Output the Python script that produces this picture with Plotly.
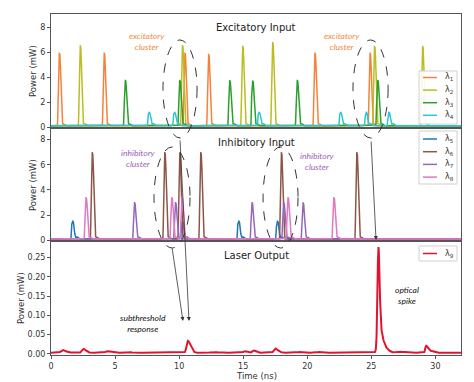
import numpy as np
import plotly.graph_objects as go
from plotly.subplots import make_subplots

# ---------------- data ----------------
# Excitatory input pulses: times (ns) and peak powers (mW)
lam1_t = [0.65, 4.15, 10.45, 12.30, 20.60, 24.90]
lam1_p = [5.9, 5.9, 5.9, 5.8, 5.9, 5.9]
lam2_t = [2.28, 10.26, 14.96, 17.30, 25.25, 29.00]
lam2_p = [6.5, 6.5, 6.45, 6.75, 6.45, 6.45]
lam3_t = [5.80, 10.05, 13.95, 15.74, 19.22, 25.50]
lam3_p = [3.72, 3.72, 3.7, 3.68, 3.72, 3.72]
lam4_t = [7.66, 9.64, 16.24, 22.60, 24.60, 26.37]
lam4_p = [1.18, 1.18, 1.18, 1.18, 1.18, 1.18]
# Inhibitory input pulses
lam5_t = [1.69, 10.26, 14.65, 17.67]
lam5_p = [1.52, 1.52, 1.52, 1.52]
lam6_t = [3.22, 8.88, 10.05, 11.69, 17.98, 23.87]
lam6_p = [6.95, 6.95, 6.95, 6.95, 6.95, 6.95]
lam7_t = [6.52, 9.72, 15.69, 18.16, 19.67]
lam7_p = [2.98, 2.98, 2.98, 2.98, 2.98]
lam8_t = [2.73, 9.43, 10.23, 18.50, 22.08]
lam8_p = [3.38, 3.38, 3.38, 3.38, 3.38]
input_base = 0.1
# Laser output components: time, amplitude, rise width, fall width
out_t = [0.90, 2.52, 4.38, 5.90, 10.67, 12.70, 15.10, 15.80, 17.49, 19.40, 20.90,
         25.55, 25.62, 26.00, 27.20, 29.27, 29.55]
out_a = [0.007, 0.010, 0.004, 0.002, 0.031, 0.002, 0.004, 0.006, 0.011, 0.002, 0.002,
         0.218, 0.062, 0.013, 0.003, 0.017, 0.005]
out_r = [0.12, 0.10, 0.12, 0.2, 0.09, 0.2, 0.08, 0.08, 0.10, 0.2, 0.2,
         0.07, 0.12, 0.25, 0.2, 0.06, 0.15]
out_f = [0.25, 0.20, 0.25, 0.3, 0.22, 0.3, 0.15, 0.15, 0.22, 0.3, 0.3,
         0.09, 0.22, 0.30, 0.3, 0.12, 0.25]
out_base = 0.003

x_ticks = [0, 5, 10, 15, 20, 25, 30]
y_in_ticks = [0, 2, 4, 6, 8]
y_out_ticks = [0.00, 0.05, 0.10, 0.15, 0.20, 0.25]

t = np.arange(0, 32.0001, 0.005)


def input_wave(times, peaks):
    y = np.full_like(t, input_base)
    for t0, p in zip(times, peaks):
        d = t - t0
        rise = np.exp(-(d / 0.10) ** 4)
        fall = np.exp(-(d / 0.15) ** 3 * np.sign(d))
        y += (p - input_base) * np.where(d < 0, rise, np.minimum(fall, 1.0))
        y += 0.18 * np.exp(-((d - 0.32) / 0.13) ** 2)
    return y


def output_wave():
    y = np.full_like(t, out_base)
    for t0, a, r, f in zip(out_t, out_a, out_r, out_f):
        d = t - t0
        s = np.where(d < 0, r, f)
        y += a * np.exp(-0.5 * (d / s) ** 2)
    return y


fig = make_subplots(rows=3, cols=1, shared_xaxes=True, vertical_spacing=0)

exc = [("λ<sub>1</sub>", lam1_t, lam1_p, "#f5823a"),
       ("λ<sub>2</sub>", lam2_t, lam2_p, "#bcbd22"),
       ("λ<sub>3</sub>", lam3_t, lam3_p, "#2ca02c"),
       ("λ<sub>4</sub>", lam4_t, lam4_p, "#2ec4d6")]
inh = [("λ<sub>5</sub>", lam5_t, lam5_p, "#1f77b4"),
       ("λ<sub>6</sub>", lam6_t, lam6_p, "#8c564b"),
       ("λ<sub>7</sub>", lam7_t, lam7_p, "#9467bd"),
       ("λ<sub>8</sub>", lam8_t, lam8_p, "#e377c2")]
out_series = [("λ<sub>9</sub>", "#e0142f")]

for name, tt, pp, c in exc:
    fig.add_trace(go.Scatter(x=t, y=input_wave(tt, pp), mode="lines", name=name,
                             line=dict(color=c, width=1.5)), row=1, col=1)
for name, tt, pp, c in inh:
    fig.add_trace(go.Scatter(x=t, y=input_wave(tt, pp), mode="lines", name=name,
                             line=dict(color=c, width=1.5)), row=2, col=1)
fig.add_trace(go.Scatter(x=t, y=output_wave(), mode="lines", name=out_series[0][0],
                         line=dict(color=out_series[0][1], width=2)), row=3, col=1)

axis_common = dict(showline=True, linecolor="#555", linewidth=1, mirror=True,
                   showgrid=False, zeroline=False, automargin=False,
                   tickfont=dict(family="DejaVu Sans", size=8, color="#333"))
for i in (1, 2, 3):
    fig.update_xaxes(range=[0, 32], tickvals=x_ticks, row=i, col=1, **axis_common)
    fig.update_xaxes(ticks="outside" if i == 3 else "", ticklen=3, tickcolor="#555",
                     showticklabels=(i == 3), row=i, col=1)
fig.update_yaxes(range=[-0.05, 9.05], tickvals=y_in_ticks, row=1, col=1, **axis_common)
fig.update_yaxes(range=[-0.08, 8.95], tickvals=y_in_ticks, row=2, col=1, **axis_common)
fig.update_yaxes(range=[-0.003, 0.292], tickvals=y_out_ticks, tickformat=".2f",
                 row=3, col=1, **axis_common)
fig.update_yaxes(ticks="outside", ticklen=3, tickcolor="#555")

# pixel -> paper helpers (plot area on screen: x 51..461, y 14..355)
def px(x):
    return (x - 51) / 410.0


def py(y):
    return (355 - y) / 341.0


ann = []
C = dict(xref="paper", yref="paper", xanchor="center", yanchor="middle", showarrow=False)
lab_font = dict(family="DejaVu Sans", size=8.5, color="#333")
for xc, yc in ((33, 71), (33, 185), (21, 298)):
    ann.append(dict(text="Power (mW)", x=px(xc), y=py(yc), textangle=-90, font=lab_font, **C))
ann.append(dict(text="Time (ns)", x=px(256), y=py(375.5), font=lab_font, **C))
for txt, yy in (("Excitatory Input", 28), ("Inhibitory Input", 142), ("Laser Output", 255)):
    ann.append(dict(text=txt, x=px(256), y=py(yy),
                    font=dict(family="DejaVu Sans", size=10, color="#222"), **C))
it_font = dict(family="Lato", size=8.5)
for xx in (147, 342):
    ann.append(dict(text="<i>excitatory<br>cluster</i>", x=px(xx), y=py(41),
                    font=dict(color="#f08a3a", **it_font), **C))
for xx, yy in ((138, 159), (317, 162)):
    ann.append(dict(text="<i>inhibitory<br>cluster</i>", x=px(xx), y=py(yy),
                    font=dict(color="#9a5fc0", **it_font), **C))
ann.append(dict(text="<i>subthreshold<br>response</i>", x=px(143), y=py(323),
                font=dict(color="#111", **it_font), **C))
ann.append(dict(text="<i>optical<br>spike</i>", x=px(407), y=py(295),
                font=dict(color="#111", **it_font), **C))
for hx, hy, ax, ay in ((10.30, 321, -11, -74), (10.77, 321, -9, -182), (25.37, 240, -5, -100)):
    ann.append(dict(text="", x=hx, y=py(hy), xref="x3", yref="paper", ax=ax, ay=ay,
                    showarrow=True, arrowhead=2, arrowsize=1, arrowwidth=0.8,
                    arrowcolor="#333", standoff=0))

shapes = []
for x0, x1, y0, y1 in ((8.74, 11.40, 138, 40), (23.57, 26.31, 138, 40),
                       (8.04, 10.85, 248, 147), (16.55, 19.28, 248, 147)):
    shapes.append(dict(type="circle", xref="x3", yref="paper", x0=x0, x1=x1,
                       y0=py(y0), y1=py(y1), line=dict(color="#333", width=1, dash="dash")))

# hand-drawn legends (matplotlib-like)
leg_font = dict(family="DejaVu Sans", size=8, color="#333")


def add_legend(items, top, bottom, first_y, step):
    shapes.append(dict(type="rect", xref="paper", yref="paper", x0=px(419), x1=px(457),
                       y0=py(bottom), y1=py(top), fillcolor="rgba(255,255,255,0.9)",
                       line=dict(color="#d0d0d0", width=1)))
    for k, (name, col) in enumerate(items):
        yy = first_y + k * step
        shapes.append(dict(type="line", xref="paper", yref="paper", x0=px(423), x1=px(437),
                           y0=py(yy), y1=py(yy), line=dict(color=col, width=1.5)))
        ann.append(dict(text=name, x=px(443), y=py(yy), xref="paper", yref="paper",
                        xanchor="left", yanchor="middle", showarrow=False, font=leg_font))


add_legend([(n, c) for n, _, _, c in exc], 71, 124, 77.5, 12.6)
add_legend([(n, c) for n, _, _, c in inh], 131, 184, 139, 12.7)
add_legend(out_series, 246, 261, 253.5, 0)

# the page body adds an 8px offset, so margins are reduced by 8px on left/top
fig.update_layout(
    width=466, height=374, margin=dict(l=43, r=13, t=6, b=27),
    paper_bgcolor="white", plot_bgcolor="white", showlegend=False,
    annotations=ann, shapes=shapes,
)
fig.write_html("out.html")
